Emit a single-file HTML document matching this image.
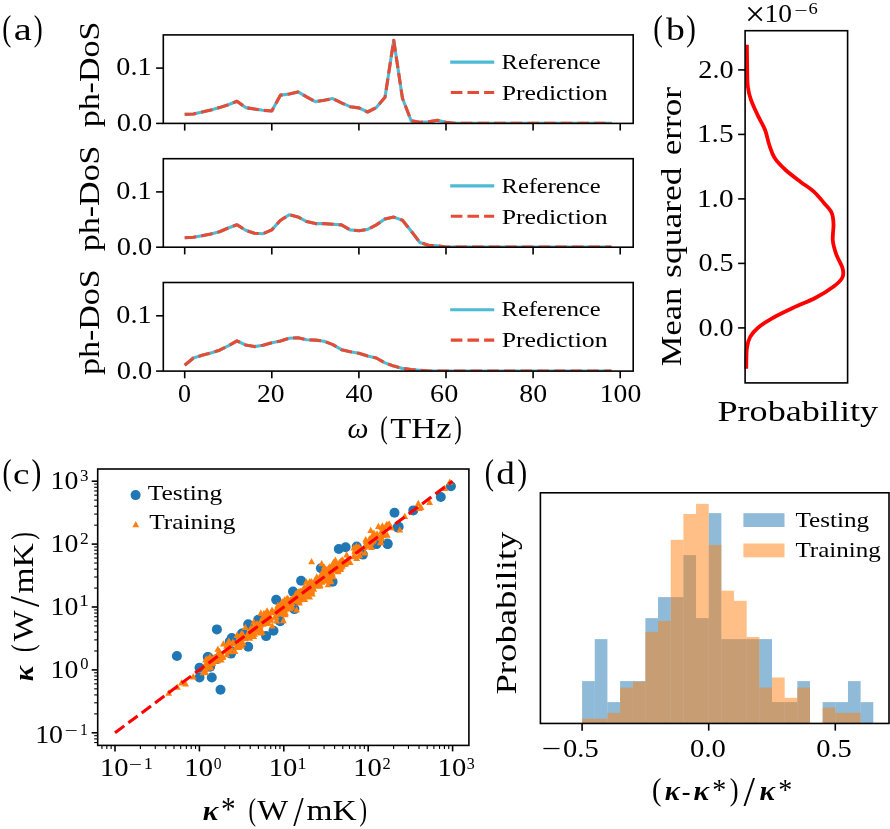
<!DOCTYPE html>
<html><head><meta charset="utf-8"><style>
html,body{margin:0;padding:0;background:#fff;}
svg{display:block;will-change:transform;}
text{font-family:"Liberation Serif", serif;}
</style></head><body>
<svg width="890" height="829" viewBox="0 0 890 829">
<rect width="890" height="829" fill="#fff"/>
<clipPath id="ca0"><rect x="163.3" y="34.9" width="469.9" height="88.5"/></clipPath>
<g clip-path="url(#ca0)">
<polyline points="184.7,114.4 193.41,114 202.12,112.1 210.83,110.1 219.54,107.6 228.25,104.7 236.96,101.3 245.67,107.6 254.38,109 263.09,110.3 271.8,111 280.51,95.1 289.22,94 297.93,91.9 306.64,96.9 315.35,101.6 324.06,100.2 332.77,98.6 341.48,102.9 350.19,106.7 358.9,107.9 367.61,112 376.32,107.6 385.03,97.3 393.74,40.3 402.45,98.2 411.16,120.7 419.87,122.3 428.58,121.7 437.29,120.2 446,122.3 454.71,123.3 463.42,123.3 472.13,123.3 480.84,123.3 489.55,123.3 498.26,123.3 506.97,123.3 515.68,123.3 524.39,123.3 533.1,123.3 541.81,123.3 550.52,123.3 559.23,123.3 567.94,123.3 576.65,123.3 585.36,123.3 594.07,123.3 602.78,123.3 611.49,123.3" fill="none" stroke="#4DBBD5" stroke-width="3.1" stroke-linejoin="round"/>
<polyline points="184.7,114.4 193.41,114 202.12,112.1 210.83,110.1 219.54,107.6 228.25,104.7 236.96,101.3 245.67,107.6 254.38,109 263.09,110.3 271.8,111 280.51,95.1 289.22,94 297.93,91.9 306.64,96.9 315.35,101.6 324.06,100.2 332.77,98.6 341.48,102.9 350.19,106.7 358.9,107.9 367.61,112 376.32,107.6 385.03,97.3 393.74,40.3 402.45,98.2 411.16,120.7 419.87,122.3 428.58,121.7 437.29,120.2 446,122.3 454.71,123.3 463.42,123.3 472.13,123.3 480.84,123.3 489.55,123.3 498.26,123.3 506.97,123.3 515.68,123.3 524.39,123.3 533.1,123.3 541.81,123.3 550.52,123.3 559.23,123.3 567.94,123.3 576.65,123.3 585.36,123.3 594.07,123.3 602.78,123.3 611.49,123.3" fill="none" stroke="#E64B35" stroke-width="3.1" stroke-linejoin="round" stroke-dasharray="11.6 5.05"/>
</g>
<line x1="450.2" y1="62.1" x2="494.2" y2="62.1" stroke="#4DBBD5" stroke-width="3.1"/>
<line x1="450.8" y1="92.5" x2="494.2" y2="92.5" stroke="#E64B35" stroke-width="3.1" stroke-dasharray="11.6 5.05"/>
<text x="501.6" y="68.7" font-size="20.2" textLength="98.95" lengthAdjust="spacingAndGlyphs">Reference</text>
<text x="501.66" y="99.8" font-size="20.2" textLength="105.93" lengthAdjust="spacingAndGlyphs">Prediction</text>
<rect x="163.3" y="34.9" width="469.9" height="88.5" fill="none" stroke="#000" stroke-width="1.6" stroke-linejoin="miter"/>
<line x1="156.1" y1="123.4" x2="163.3" y2="123.4" stroke="#000" stroke-width="1.6"/>
<line x1="156.1" y1="68.1" x2="163.3" y2="68.1" stroke="#000" stroke-width="1.6"/>
<text x="116.72" y="131" font-size="25.5" textLength="35.57" lengthAdjust="spacingAndGlyphs">0.0</text>
<text x="116.33" y="75.1" font-size="25.5" textLength="35.16" lengthAdjust="spacingAndGlyphs">0.1</text>
<line x1="184.7" y1="123.4" x2="184.7" y2="130.6" stroke="#000" stroke-width="1.6"/>
<line x1="271.8" y1="123.4" x2="271.8" y2="130.6" stroke="#000" stroke-width="1.6"/>
<line x1="358.9" y1="123.4" x2="358.9" y2="130.6" stroke="#000" stroke-width="1.6"/>
<line x1="446" y1="123.4" x2="446" y2="130.6" stroke="#000" stroke-width="1.6"/>
<line x1="533.1" y1="123.4" x2="533.1" y2="130.6" stroke="#000" stroke-width="1.6"/>
<line x1="620.2" y1="123.4" x2="620.2" y2="130.6" stroke="#000" stroke-width="1.6"/>
<text x="99.5" y="127.35" font-size="29" textLength="105.65" lengthAdjust="spacingAndGlyphs" transform="rotate(-90 99.5 127.35)">ph-DoS</text>
<clipPath id="ca1"><rect x="163.3" y="158.7" width="469.9" height="88.5"/></clipPath>
<g clip-path="url(#ca1)">
<polyline points="184.7,237.8 193.41,237.3 202.12,235.7 210.83,234 219.54,231.7 228.25,228 236.96,224.7 245.67,230.3 254.38,233.3 263.09,233.7 271.8,229.9 280.51,220.2 289.22,214.8 297.93,216.9 306.64,221.6 315.35,223.6 324.06,223.6 332.77,224.3 341.48,224.9 350.19,229.9 358.9,230.7 367.61,229.4 376.32,224.9 385.03,218.9 393.74,217.1 402.45,220.2 411.16,231 419.87,242.5 428.58,245.2 437.29,245.8 446,247.1 454.71,247.1 463.42,247.1 472.13,247.1 480.84,247.1 489.55,247.1 498.26,247.1 506.97,247.1 515.68,247.1 524.39,247.1 533.1,247.1 541.81,247.1 550.52,247.1 559.23,247.1 567.94,247.1 576.65,247.1 585.36,247.1 594.07,247.1 602.78,247.1 611.49,247.1" fill="none" stroke="#4DBBD5" stroke-width="3.1" stroke-linejoin="round"/>
<polyline points="184.7,237.8 193.41,237.3 202.12,235.7 210.83,234 219.54,231.7 228.25,228 236.96,224.7 245.67,230.3 254.38,233.3 263.09,233.7 271.8,229.9 280.51,220.2 289.22,214.8 297.93,216.9 306.64,221.6 315.35,223.6 324.06,223.6 332.77,224.3 341.48,224.9 350.19,229.9 358.9,230.7 367.61,229.4 376.32,224.9 385.03,218.9 393.74,217.1 402.45,220.2 411.16,231 419.87,242.5 428.58,245.2 437.29,245.8 446,247.1 454.71,247.1 463.42,247.1 472.13,247.1 480.84,247.1 489.55,247.1 498.26,247.1 506.97,247.1 515.68,247.1 524.39,247.1 533.1,247.1 541.81,247.1 550.52,247.1 559.23,247.1 567.94,247.1 576.65,247.1 585.36,247.1 594.07,247.1 602.78,247.1 611.49,247.1" fill="none" stroke="#E64B35" stroke-width="3.1" stroke-linejoin="round" stroke-dasharray="11.6 5.05"/>
</g>
<line x1="450.2" y1="185.9" x2="494.2" y2="185.9" stroke="#4DBBD5" stroke-width="3.1"/>
<line x1="450.8" y1="216.3" x2="494.2" y2="216.3" stroke="#E64B35" stroke-width="3.1" stroke-dasharray="11.6 5.05"/>
<text x="501.6" y="192.5" font-size="20.2" textLength="98.95" lengthAdjust="spacingAndGlyphs">Reference</text>
<text x="501.66" y="223.6" font-size="20.2" textLength="105.93" lengthAdjust="spacingAndGlyphs">Prediction</text>
<rect x="163.3" y="158.7" width="469.9" height="88.5" fill="none" stroke="#000" stroke-width="1.6" stroke-linejoin="miter"/>
<line x1="156.1" y1="247.2" x2="163.3" y2="247.2" stroke="#000" stroke-width="1.6"/>
<line x1="156.1" y1="191.9" x2="163.3" y2="191.9" stroke="#000" stroke-width="1.6"/>
<text x="116.72" y="254.8" font-size="25.5" textLength="35.57" lengthAdjust="spacingAndGlyphs">0.0</text>
<text x="116.33" y="198.9" font-size="25.5" textLength="35.16" lengthAdjust="spacingAndGlyphs">0.1</text>
<line x1="184.7" y1="247.2" x2="184.7" y2="254.4" stroke="#000" stroke-width="1.6"/>
<line x1="271.8" y1="247.2" x2="271.8" y2="254.4" stroke="#000" stroke-width="1.6"/>
<line x1="358.9" y1="247.2" x2="358.9" y2="254.4" stroke="#000" stroke-width="1.6"/>
<line x1="446" y1="247.2" x2="446" y2="254.4" stroke="#000" stroke-width="1.6"/>
<line x1="533.1" y1="247.2" x2="533.1" y2="254.4" stroke="#000" stroke-width="1.6"/>
<line x1="620.2" y1="247.2" x2="620.2" y2="254.4" stroke="#000" stroke-width="1.6"/>
<text x="99.5" y="251.15" font-size="29" textLength="105.65" lengthAdjust="spacingAndGlyphs" transform="rotate(-90 99.5 251.15)">ph-DoS</text>
<clipPath id="ca2"><rect x="163.3" y="282.5" width="469.9" height="88.6"/></clipPath>
<g clip-path="url(#ca2)">
<polyline points="184.7,365.2 193.41,358 202.12,355.3 210.83,353 219.54,350.2 228.25,345.9 236.96,340.9 245.67,345 254.38,346.6 263.09,345.2 271.8,342.8 280.51,340.9 289.22,338.2 297.93,337.8 306.64,339.8 315.35,340.1 324.06,341.2 332.77,344.6 341.48,349.7 350.19,351.7 358.9,353.3 367.61,356 376.32,358 385.03,362.9 393.74,366.1 402.45,368.4 411.16,369.5 419.87,370.2 428.58,371 437.29,371 446,371 454.71,371 463.42,371 472.13,371 480.84,371 489.55,371 498.26,371 506.97,371 515.68,371 524.39,371 533.1,371 541.81,371 550.52,371 559.23,371 567.94,371 576.65,371 585.36,371 594.07,371 602.78,371 611.49,371" fill="none" stroke="#4DBBD5" stroke-width="3.1" stroke-linejoin="round"/>
<polyline points="184.7,365.2 193.41,358 202.12,355.3 210.83,353 219.54,350.2 228.25,345.9 236.96,340.9 245.67,345 254.38,346.6 263.09,345.2 271.8,342.8 280.51,340.9 289.22,338.2 297.93,337.8 306.64,339.8 315.35,340.1 324.06,341.2 332.77,344.6 341.48,349.7 350.19,351.7 358.9,353.3 367.61,356 376.32,358 385.03,362.9 393.74,366.1 402.45,368.4 411.16,369.5 419.87,370.2 428.58,371 437.29,371 446,371 454.71,371 463.42,371 472.13,371 480.84,371 489.55,371 498.26,371 506.97,371 515.68,371 524.39,371 533.1,371 541.81,371 550.52,371 559.23,371 567.94,371 576.65,371 585.36,371 594.07,371 602.78,371 611.49,371" fill="none" stroke="#E64B35" stroke-width="3.1" stroke-linejoin="round" stroke-dasharray="11.6 5.05"/>
</g>
<line x1="450.2" y1="309.7" x2="494.2" y2="309.7" stroke="#4DBBD5" stroke-width="3.1"/>
<line x1="450.8" y1="340.1" x2="494.2" y2="340.1" stroke="#E64B35" stroke-width="3.1" stroke-dasharray="11.6 5.05"/>
<text x="501.6" y="316.3" font-size="20.2" textLength="98.95" lengthAdjust="spacingAndGlyphs">Reference</text>
<text x="501.66" y="347.4" font-size="20.2" textLength="105.93" lengthAdjust="spacingAndGlyphs">Prediction</text>
<rect x="163.3" y="282.5" width="469.9" height="88.6" fill="none" stroke="#000" stroke-width="1.6" stroke-linejoin="miter"/>
<line x1="156.1" y1="371.1" x2="163.3" y2="371.1" stroke="#000" stroke-width="1.6"/>
<line x1="156.1" y1="315.8" x2="163.3" y2="315.8" stroke="#000" stroke-width="1.6"/>
<text x="116.72" y="378.7" font-size="25.5" textLength="35.57" lengthAdjust="spacingAndGlyphs">0.0</text>
<text x="116.33" y="322.8" font-size="25.5" textLength="35.16" lengthAdjust="spacingAndGlyphs">0.1</text>
<line x1="184.7" y1="371.1" x2="184.7" y2="378.3" stroke="#000" stroke-width="1.6"/>
<line x1="271.8" y1="371.1" x2="271.8" y2="378.3" stroke="#000" stroke-width="1.6"/>
<line x1="358.9" y1="371.1" x2="358.9" y2="378.3" stroke="#000" stroke-width="1.6"/>
<line x1="446" y1="371.1" x2="446" y2="378.3" stroke="#000" stroke-width="1.6"/>
<line x1="533.1" y1="371.1" x2="533.1" y2="378.3" stroke="#000" stroke-width="1.6"/>
<line x1="620.2" y1="371.1" x2="620.2" y2="378.3" stroke="#000" stroke-width="1.6"/>
<text x="99.5" y="374.95" font-size="29" textLength="105.65" lengthAdjust="spacingAndGlyphs" transform="rotate(-90 99.5 374.95)">ph-DoS</text>
<text x="178.01" y="401.7" font-size="25.5" textLength="12.98" lengthAdjust="spacingAndGlyphs">0</text>
<text x="257.09" y="401.7" font-size="25.5" textLength="27.56" lengthAdjust="spacingAndGlyphs">20</text>
<text x="345.56" y="401.7" font-size="25.5" textLength="27.48" lengthAdjust="spacingAndGlyphs">40</text>
<text x="430.09" y="401.7" font-size="25.5" textLength="28.18" lengthAdjust="spacingAndGlyphs">60</text>
<text x="519.24" y="401.7" font-size="25.5" textLength="27.82" lengthAdjust="spacingAndGlyphs">80</text>
<text x="599.77" y="401.7" font-size="25.5" textLength="41.48" lengthAdjust="spacingAndGlyphs">100</text>
<text x="347.51" y="437.5" font-size="28.5" textLength="20.99" lengthAdjust="spacingAndGlyphs" font-style="italic">ω</text>
<text x="380.21" y="437.7" font-size="31.2" textLength="7.52" lengthAdjust="spacingAndGlyphs">(</text>
<text x="454.27" y="437.7" font-size="31.2" textLength="7.52" lengthAdjust="spacingAndGlyphs">)</text>
<text x="390.18" y="437.5" font-size="29.5" textLength="61.39" lengthAdjust="spacingAndGlyphs">THz</text>
<text x="2.2" y="39.8" font-size="35.5" textLength="9.08" lengthAdjust="spacingAndGlyphs">(</text>
<text x="13.77" y="39.8" font-size="30.5" textLength="18.09" lengthAdjust="spacingAndGlyphs">a</text>
<text x="33.63" y="39.8" font-size="35.5" textLength="8.95" lengthAdjust="spacingAndGlyphs">)</text>
<path d="M746.9,44.8 C746.95,48.85 747.05,62.17 747.2,69.1 C747.35,76.03 747.2,81.35 747.8,86.4 C748.4,91.45 749.2,94.7 750.8,99.4 C752.4,104.1 755.03,109.53 757.4,114.6 C759.77,119.67 763.02,124.73 765,129.8 C766.98,134.87 767.68,140.3 769.3,145 C770.92,149.7 771.98,153.83 774.7,158 C777.42,162.17 781.27,166.02 785.6,170 C789.93,173.98 796,178.3 800.7,181.9 C805.4,185.5 809.92,188.08 813.8,191.6 C817.68,195.12 821.02,199.45 824,203 C826.98,206.55 830.12,209.33 831.7,212.9 C833.28,216.47 833.32,219.82 833.5,224.4 C833.68,228.98 832.35,235.43 832.8,240.4 C833.25,245.37 834.57,249.52 836.2,254.2 C837.83,258.88 841.57,264.62 842.6,268.5 C843.63,272.38 843.83,274.55 842.4,277.5 C840.97,280.45 838.47,282.83 834,286.2 C829.53,289.57 822.48,294.07 815.6,297.7 C808.72,301.33 799.95,304.57 792.7,308 C785.45,311.43 777.83,315.05 772.1,318.3 C766.37,321.55 761.93,324.43 758.3,327.5 C754.67,330.57 752.2,333.27 750.3,336.7 C748.4,340.13 747.58,342.77 746.9,348.1 C746.22,353.43 746.32,365.27 746.2,368.7" fill="none" stroke="#f00" stroke-width="3.8" stroke-linejoin="round"/>
<rect x="745.1" y="30.7" width="102.5" height="352.2" fill="none" stroke="#000" stroke-width="1.6" stroke-linejoin="miter"/>
<line x1="738.1" y1="327.9" x2="745.1" y2="327.9" stroke="#000" stroke-width="1.6"/>
<text x="698.43" y="335.9" font-size="25.5" textLength="35.14" lengthAdjust="spacingAndGlyphs">0.0</text>
<line x1="738.1" y1="263.4" x2="745.1" y2="263.4" stroke="#000" stroke-width="1.6"/>
<text x="698.43" y="271.4" font-size="25.5" textLength="35.17" lengthAdjust="spacingAndGlyphs">0.5</text>
<line x1="738.1" y1="198.9" x2="745.1" y2="198.9" stroke="#000" stroke-width="1.6"/>
<text x="696.92" y="206.9" font-size="25.5" textLength="36.7" lengthAdjust="spacingAndGlyphs">1.0</text>
<line x1="738.1" y1="134.4" x2="745.1" y2="134.4" stroke="#000" stroke-width="1.6"/>
<text x="696.92" y="142.4" font-size="25.5" textLength="36.73" lengthAdjust="spacingAndGlyphs">1.5</text>
<line x1="738.1" y1="69.9" x2="745.1" y2="69.9" stroke="#000" stroke-width="1.6"/>
<text x="698.26" y="77.9" font-size="25.5" textLength="35.32" lengthAdjust="spacingAndGlyphs">2.0</text>
<text x="681" y="366.19" font-size="29" textLength="78.31" lengthAdjust="spacingAndGlyphs" transform="rotate(-90 681 366.19)">Mean</text>
<text x="681" y="277.96" font-size="29" textLength="110.59" lengthAdjust="spacingAndGlyphs" transform="rotate(-90 681 277.96)">squared</text>
<text x="681" y="155.27" font-size="29" textLength="68.18" lengthAdjust="spacingAndGlyphs" transform="rotate(-90 681 155.27)">error</text>
<text x="717.46" y="421.2" font-size="29" textLength="160.58" lengthAdjust="spacingAndGlyphs">Probability</text>
<text x="653.23" y="39.9" font-size="35.5" textLength="9.59" lengthAdjust="spacingAndGlyphs">(</text>
<text x="666" y="39.9" font-size="32.5" textLength="18.83" lengthAdjust="spacingAndGlyphs">b</text>
<text x="686.27" y="39.9" font-size="35.5" textLength="9.59" lengthAdjust="spacingAndGlyphs">)</text>
<text x="745.06" y="26" font-size="35.6" textLength="20.24" lengthAdjust="spacingAndGlyphs">×</text>
<text x="764.49" y="21.8" font-size="25.5" textLength="27.46" lengthAdjust="spacingAndGlyphs">10</text>
<text x="794.23" y="15.6" font-size="17" textLength="13.21" lengthAdjust="spacingAndGlyphs">−</text>
<text x="808.51" y="14.2" font-size="17" textLength="9.25" lengthAdjust="spacingAndGlyphs">6</text>
<line x1="101.93" y1="745.4" x2="101.93" y2="748.9" stroke="#000" stroke-width="1.1"/>
<line x1="94.2" y1="742.54" x2="97.7" y2="742.54" stroke="#000" stroke-width="1.1"/>
<line x1="106.82" y1="745.4" x2="106.82" y2="748.9" stroke="#000" stroke-width="1.1"/>
<line x1="94.2" y1="738.9" x2="97.7" y2="738.9" stroke="#000" stroke-width="1.1"/>
<line x1="111.14" y1="745.4" x2="111.14" y2="748.9" stroke="#000" stroke-width="1.1"/>
<line x1="94.2" y1="735.68" x2="97.7" y2="735.68" stroke="#000" stroke-width="1.1"/>
<line x1="140.41" y1="745.4" x2="140.41" y2="748.9" stroke="#000" stroke-width="1.1"/>
<line x1="94.2" y1="713.87" x2="97.7" y2="713.87" stroke="#000" stroke-width="1.1"/>
<line x1="155.27" y1="745.4" x2="155.27" y2="748.9" stroke="#000" stroke-width="1.1"/>
<line x1="94.2" y1="702.79" x2="97.7" y2="702.79" stroke="#000" stroke-width="1.1"/>
<line x1="165.81" y1="745.4" x2="165.81" y2="748.9" stroke="#000" stroke-width="1.1"/>
<line x1="94.2" y1="694.93" x2="97.7" y2="694.93" stroke="#000" stroke-width="1.1"/>
<line x1="173.99" y1="745.4" x2="173.99" y2="748.9" stroke="#000" stroke-width="1.1"/>
<line x1="94.2" y1="688.83" x2="97.7" y2="688.83" stroke="#000" stroke-width="1.1"/>
<line x1="180.68" y1="745.4" x2="180.68" y2="748.9" stroke="#000" stroke-width="1.1"/>
<line x1="94.2" y1="683.85" x2="97.7" y2="683.85" stroke="#000" stroke-width="1.1"/>
<line x1="186.33" y1="745.4" x2="186.33" y2="748.9" stroke="#000" stroke-width="1.1"/>
<line x1="94.2" y1="679.64" x2="97.7" y2="679.64" stroke="#000" stroke-width="1.1"/>
<line x1="191.22" y1="745.4" x2="191.22" y2="748.9" stroke="#000" stroke-width="1.1"/>
<line x1="94.2" y1="676" x2="97.7" y2="676" stroke="#000" stroke-width="1.1"/>
<line x1="195.54" y1="745.4" x2="195.54" y2="748.9" stroke="#000" stroke-width="1.1"/>
<line x1="94.2" y1="672.78" x2="97.7" y2="672.78" stroke="#000" stroke-width="1.1"/>
<line x1="224.81" y1="745.4" x2="224.81" y2="748.9" stroke="#000" stroke-width="1.1"/>
<line x1="94.2" y1="650.97" x2="97.7" y2="650.97" stroke="#000" stroke-width="1.1"/>
<line x1="239.67" y1="745.4" x2="239.67" y2="748.9" stroke="#000" stroke-width="1.1"/>
<line x1="94.2" y1="639.89" x2="97.7" y2="639.89" stroke="#000" stroke-width="1.1"/>
<line x1="250.21" y1="745.4" x2="250.21" y2="748.9" stroke="#000" stroke-width="1.1"/>
<line x1="94.2" y1="632.03" x2="97.7" y2="632.03" stroke="#000" stroke-width="1.1"/>
<line x1="258.39" y1="745.4" x2="258.39" y2="748.9" stroke="#000" stroke-width="1.1"/>
<line x1="94.2" y1="625.93" x2="97.7" y2="625.93" stroke="#000" stroke-width="1.1"/>
<line x1="265.08" y1="745.4" x2="265.08" y2="748.9" stroke="#000" stroke-width="1.1"/>
<line x1="94.2" y1="620.95" x2="97.7" y2="620.95" stroke="#000" stroke-width="1.1"/>
<line x1="270.73" y1="745.4" x2="270.73" y2="748.9" stroke="#000" stroke-width="1.1"/>
<line x1="94.2" y1="616.74" x2="97.7" y2="616.74" stroke="#000" stroke-width="1.1"/>
<line x1="275.62" y1="745.4" x2="275.62" y2="748.9" stroke="#000" stroke-width="1.1"/>
<line x1="94.2" y1="613.1" x2="97.7" y2="613.1" stroke="#000" stroke-width="1.1"/>
<line x1="279.94" y1="745.4" x2="279.94" y2="748.9" stroke="#000" stroke-width="1.1"/>
<line x1="94.2" y1="609.88" x2="97.7" y2="609.88" stroke="#000" stroke-width="1.1"/>
<line x1="309.21" y1="745.4" x2="309.21" y2="748.9" stroke="#000" stroke-width="1.1"/>
<line x1="94.2" y1="588.07" x2="97.7" y2="588.07" stroke="#000" stroke-width="1.1"/>
<line x1="324.07" y1="745.4" x2="324.07" y2="748.9" stroke="#000" stroke-width="1.1"/>
<line x1="94.2" y1="576.99" x2="97.7" y2="576.99" stroke="#000" stroke-width="1.1"/>
<line x1="334.61" y1="745.4" x2="334.61" y2="748.9" stroke="#000" stroke-width="1.1"/>
<line x1="94.2" y1="569.13" x2="97.7" y2="569.13" stroke="#000" stroke-width="1.1"/>
<line x1="342.79" y1="745.4" x2="342.79" y2="748.9" stroke="#000" stroke-width="1.1"/>
<line x1="94.2" y1="563.03" x2="97.7" y2="563.03" stroke="#000" stroke-width="1.1"/>
<line x1="349.48" y1="745.4" x2="349.48" y2="748.9" stroke="#000" stroke-width="1.1"/>
<line x1="94.2" y1="558.05" x2="97.7" y2="558.05" stroke="#000" stroke-width="1.1"/>
<line x1="355.13" y1="745.4" x2="355.13" y2="748.9" stroke="#000" stroke-width="1.1"/>
<line x1="94.2" y1="553.84" x2="97.7" y2="553.84" stroke="#000" stroke-width="1.1"/>
<line x1="360.02" y1="745.4" x2="360.02" y2="748.9" stroke="#000" stroke-width="1.1"/>
<line x1="94.2" y1="550.2" x2="97.7" y2="550.2" stroke="#000" stroke-width="1.1"/>
<line x1="364.34" y1="745.4" x2="364.34" y2="748.9" stroke="#000" stroke-width="1.1"/>
<line x1="94.2" y1="546.98" x2="97.7" y2="546.98" stroke="#000" stroke-width="1.1"/>
<line x1="393.61" y1="745.4" x2="393.61" y2="748.9" stroke="#000" stroke-width="1.1"/>
<line x1="94.2" y1="525.17" x2="97.7" y2="525.17" stroke="#000" stroke-width="1.1"/>
<line x1="408.47" y1="745.4" x2="408.47" y2="748.9" stroke="#000" stroke-width="1.1"/>
<line x1="94.2" y1="514.09" x2="97.7" y2="514.09" stroke="#000" stroke-width="1.1"/>
<line x1="419.01" y1="745.4" x2="419.01" y2="748.9" stroke="#000" stroke-width="1.1"/>
<line x1="94.2" y1="506.23" x2="97.7" y2="506.23" stroke="#000" stroke-width="1.1"/>
<line x1="427.19" y1="745.4" x2="427.19" y2="748.9" stroke="#000" stroke-width="1.1"/>
<line x1="94.2" y1="500.13" x2="97.7" y2="500.13" stroke="#000" stroke-width="1.1"/>
<line x1="433.88" y1="745.4" x2="433.88" y2="748.9" stroke="#000" stroke-width="1.1"/>
<line x1="94.2" y1="495.15" x2="97.7" y2="495.15" stroke="#000" stroke-width="1.1"/>
<line x1="439.53" y1="745.4" x2="439.53" y2="748.9" stroke="#000" stroke-width="1.1"/>
<line x1="94.2" y1="490.94" x2="97.7" y2="490.94" stroke="#000" stroke-width="1.1"/>
<line x1="444.42" y1="745.4" x2="444.42" y2="748.9" stroke="#000" stroke-width="1.1"/>
<line x1="94.2" y1="487.3" x2="97.7" y2="487.3" stroke="#000" stroke-width="1.1"/>
<line x1="448.74" y1="745.4" x2="448.74" y2="748.9" stroke="#000" stroke-width="1.1"/>
<line x1="94.2" y1="484.08" x2="97.7" y2="484.08" stroke="#000" stroke-width="1.1"/>
<line x1="115" y1="745.4" x2="115" y2="751.4" stroke="#000" stroke-width="1.6"/>
<line x1="91.7" y1="732.8" x2="97.7" y2="732.8" stroke="#000" stroke-width="1.6"/>
<line x1="199.4" y1="745.4" x2="199.4" y2="751.4" stroke="#000" stroke-width="1.6"/>
<line x1="91.7" y1="669.9" x2="97.7" y2="669.9" stroke="#000" stroke-width="1.6"/>
<line x1="283.8" y1="745.4" x2="283.8" y2="751.4" stroke="#000" stroke-width="1.6"/>
<line x1="91.7" y1="607" x2="97.7" y2="607" stroke="#000" stroke-width="1.6"/>
<line x1="368.2" y1="745.4" x2="368.2" y2="751.4" stroke="#000" stroke-width="1.6"/>
<line x1="91.7" y1="544.1" x2="97.7" y2="544.1" stroke="#000" stroke-width="1.6"/>
<line x1="452.6" y1="745.4" x2="452.6" y2="751.4" stroke="#000" stroke-width="1.6"/>
<line x1="91.7" y1="481.2" x2="97.7" y2="481.2" stroke="#000" stroke-width="1.6"/>
<circle cx="176.9" cy="656" r="5" fill="#1f77b4"/>
<circle cx="216.9" cy="629.4" r="5" fill="#1f77b4"/>
<circle cx="207.7" cy="657" r="5" fill="#1f77b4"/>
<circle cx="199.5" cy="667.8" r="5" fill="#1f77b4"/>
<circle cx="199.5" cy="677.5" r="5" fill="#1f77b4"/>
<circle cx="211.8" cy="677.5" r="5" fill="#1f77b4"/>
<circle cx="210.2" cy="666.8" r="5" fill="#1f77b4"/>
<circle cx="220.5" cy="689.8" r="5" fill="#1f77b4"/>
<circle cx="216.9" cy="659.1" r="5" fill="#1f77b4"/>
<circle cx="230.7" cy="652.4" r="5" fill="#1f77b4"/>
<circle cx="231.8" cy="638.1" r="5" fill="#1f77b4"/>
<circle cx="242" cy="633.5" r="5" fill="#1f77b4"/>
<circle cx="248.2" cy="624.2" r="5" fill="#1f77b4"/>
<circle cx="248.2" cy="646.8" r="5" fill="#1f77b4"/>
<circle cx="229.7" cy="641.5" r="5" fill="#1f77b4"/>
<circle cx="243.1" cy="633.4" r="5" fill="#1f77b4"/>
<circle cx="231" cy="653.6" r="5" fill="#1f77b4"/>
<circle cx="266.1" cy="636.1" r="5" fill="#1f77b4"/>
<circle cx="273.5" cy="630.7" r="5" fill="#1f77b4"/>
<circle cx="280.2" cy="621.2" r="5" fill="#1f77b4"/>
<circle cx="276.2" cy="599.7" r="5" fill="#1f77b4"/>
<circle cx="294.4" cy="609.1" r="5" fill="#1f77b4"/>
<circle cx="293" cy="591.6" r="5" fill="#1f77b4"/>
<circle cx="301.1" cy="580.8" r="5" fill="#1f77b4"/>
<circle cx="338.8" cy="549" r="5" fill="#1f77b4"/>
<circle cx="345.6" cy="547.2" r="5" fill="#1f77b4"/>
<circle cx="387.7" cy="544.1" r="5" fill="#1f77b4"/>
<circle cx="376.5" cy="544.1" r="5" fill="#1f77b4"/>
<circle cx="362.9" cy="554.6" r="5" fill="#1f77b4"/>
<circle cx="320.9" cy="568.2" r="5" fill="#1f77b4"/>
<circle cx="332.6" cy="581.8" r="5" fill="#1f77b4"/>
<circle cx="293.1" cy="607.8" r="5" fill="#1f77b4"/>
<circle cx="397.5" cy="527.4" r="5" fill="#1f77b4"/>
<circle cx="356.7" cy="546.6" r="5" fill="#1f77b4"/>
<circle cx="450.9" cy="486.3" r="5" fill="#1f77b4"/>
<circle cx="440.8" cy="497" r="5" fill="#1f77b4"/>
<circle cx="413.3" cy="510.4" r="5" fill="#1f77b4"/>
<circle cx="394.5" cy="512.7" r="5" fill="#1f77b4"/>
<circle cx="398.7" cy="526.7" r="5" fill="#1f77b4"/>
<circle cx="387.4" cy="543.6" r="5" fill="#1f77b4"/>
<circle cx="375.6" cy="543.6" r="5" fill="#1f77b4"/>
<circle cx="258.2" cy="619.8" r="5" fill="#1f77b4"/>
<circle cx="208.4" cy="657.2" r="5" fill="#1f77b4"/>
<circle cx="279.6" cy="620.5" r="5" fill="#1f77b4"/>
<circle cx="231" cy="650.9" r="5" fill="#1f77b4"/>
<path d="M168.7,689.5L165.3,695.79L172.1,695.79Z" fill="#ff7f0e"/>
<path d="M177.4,683.4L174,689.69L180.8,689.69Z" fill="#ff7f0e"/>
<path d="M185.6,680.3L182.2,686.59L189,686.59Z" fill="#ff7f0e"/>
<path d="M181.5,679.3L178.1,685.59L184.9,685.59Z" fill="#ff7f0e"/>
<path d="M193.3,673.1L189.9,679.39L196.7,679.39Z" fill="#ff7f0e"/>
<path d="M203.1,669L199.7,675.29L206.5,675.29Z" fill="#ff7f0e"/>
<path d="M206.1,661.8L202.7,668.09L209.5,668.09Z" fill="#ff7f0e"/>
<path d="M210.2,653.6L206.8,659.89L213.6,659.89Z" fill="#ff7f0e"/>
<path d="M213.3,655.7L209.9,661.99L216.7,661.99Z" fill="#ff7f0e"/>
<path d="M217.9,645.4L214.5,651.69L221.3,651.69Z" fill="#ff7f0e"/>
<path d="M218.9,650.6L215.5,656.89L222.3,656.89Z" fill="#ff7f0e"/>
<path d="M221.5,653.6L218.1,659.89L224.9,659.89Z" fill="#ff7f0e"/>
<path d="M311.6,558L308.2,564.29L315,564.29Z" fill="#ff7f0e"/>
<path d="M449.8,478.4L446.4,484.69L453.2,484.69Z" fill="#ff7f0e"/>
<path d="M444.7,484.6L441.3,490.89L448.1,490.89Z" fill="#ff7f0e"/>
<path d="M429.6,498.6L426.2,504.89L433,504.89Z" fill="#ff7f0e"/>
<path d="M418.3,499.7L414.9,505.99L421.7,505.99Z" fill="#ff7f0e"/>
<path d="M419.4,504.8L416,511.09L422.8,511.09Z" fill="#ff7f0e"/>
<path d="M421.1,503.7L417.7,509.99L424.5,509.99Z" fill="#ff7f0e"/>
<path d="M404.8,512.7L401.4,518.99L408.2,518.99Z" fill="#ff7f0e"/>
<path d="M399.8,526.2L396.4,532.49L403.2,532.49Z" fill="#ff7f0e"/>
<path d="M378.4,522.8L375,529.09L381.8,529.09Z" fill="#ff7f0e"/>
<path d="M382.4,522.2L379,528.49L385.8,528.49Z" fill="#ff7f0e"/>
<path d="M386.3,521.7L382.9,527.99L389.7,527.99Z" fill="#ff7f0e"/>
<path d="M391.3,523.9L387.9,530.19L394.7,530.19Z" fill="#ff7f0e"/>
<path d="M372.2,532.3L368.8,538.59L375.6,538.59Z" fill="#ff7f0e"/>
<path d="M376.7,534L373.3,540.29L380.1,540.29Z" fill="#ff7f0e"/>
<path d="M381.2,532.9L377.8,539.19L384.6,539.19Z" fill="#ff7f0e"/>
<path d="M307.56,581.51L304.16,587.8L310.96,587.8Z" fill="#ff7f0e"/>
<path d="M278.27,610.12L274.87,616.41L281.67,616.41Z" fill="#ff7f0e"/>
<path d="M284.64,608.33L281.24,614.62L288.04,614.62Z" fill="#ff7f0e"/>
<path d="M259.96,627.06L256.56,633.35L263.36,633.35Z" fill="#ff7f0e"/>
<path d="M353.95,551.76L350.55,558.05L357.35,558.05Z" fill="#ff7f0e"/>
<path d="M286.74,595.15L283.34,601.44L290.14,601.44Z" fill="#ff7f0e"/>
<path d="M285.12,602.2L281.72,608.49L288.52,608.49Z" fill="#ff7f0e"/>
<path d="M301.61,587.66L298.21,593.95L305.01,593.95Z" fill="#ff7f0e"/>
<path d="M209.21,658.15L205.81,664.44L212.61,664.44Z" fill="#ff7f0e"/>
<path d="M285.42,599.47L282.02,605.76L288.82,605.76Z" fill="#ff7f0e"/>
<path d="M260.6,627.38L257.2,633.67L264,633.67Z" fill="#ff7f0e"/>
<path d="M255.27,624.85L251.87,631.14L258.67,631.14Z" fill="#ff7f0e"/>
<path d="M364.32,543.82L360.92,550.11L367.72,550.11Z" fill="#ff7f0e"/>
<path d="M286.25,598.86L282.85,605.15L289.65,605.15Z" fill="#ff7f0e"/>
<path d="M216.66,653.18L213.26,659.47L220.06,659.47Z" fill="#ff7f0e"/>
<path d="M260.79,629.13L257.39,635.42L264.19,635.42Z" fill="#ff7f0e"/>
<path d="M354.86,547.62L351.46,553.91L358.26,553.91Z" fill="#ff7f0e"/>
<path d="M296.54,606.23L293.14,612.52L299.94,612.52Z" fill="#ff7f0e"/>
<path d="M217.18,650.93L213.78,657.22L220.58,657.22Z" fill="#ff7f0e"/>
<path d="M301.47,593.87L298.07,600.16L304.87,600.16Z" fill="#ff7f0e"/>
<path d="M265.37,610.1L261.97,616.39L268.77,616.39Z" fill="#ff7f0e"/>
<path d="M249.37,630.92L245.97,637.21L252.77,637.21Z" fill="#ff7f0e"/>
<path d="M214.74,654.27L211.34,660.56L218.14,660.56Z" fill="#ff7f0e"/>
<path d="M275.25,612.68L271.85,618.97L278.65,618.97Z" fill="#ff7f0e"/>
<path d="M303.94,584.29L300.54,590.58L307.34,590.58Z" fill="#ff7f0e"/>
<path d="M281.75,600.49L278.35,606.78L285.15,606.78Z" fill="#ff7f0e"/>
<path d="M253.72,618.21L250.32,624.5L257.12,624.5Z" fill="#ff7f0e"/>
<path d="M367.92,542.35L364.52,548.64L371.32,548.64Z" fill="#ff7f0e"/>
<path d="M276.83,604.95L273.43,611.24L280.23,611.24Z" fill="#ff7f0e"/>
<path d="M387.31,531.46L383.91,537.75L390.71,537.75Z" fill="#ff7f0e"/>
<path d="M251.58,627.06L248.18,633.35L254.98,633.35Z" fill="#ff7f0e"/>
<path d="M217.25,657.09L213.85,663.38L220.65,663.38Z" fill="#ff7f0e"/>
<path d="M311.82,582.45L308.42,588.74L315.22,588.74Z" fill="#ff7f0e"/>
<path d="M287.77,594.67L284.37,600.96L291.17,600.96Z" fill="#ff7f0e"/>
<path d="M250.36,627.94L246.96,634.23L253.76,634.23Z" fill="#ff7f0e"/>
<path d="M304.86,585.58L301.46,591.87L308.26,591.87Z" fill="#ff7f0e"/>
<path d="M307.56,588.93L304.16,595.22L310.96,595.22Z" fill="#ff7f0e"/>
<path d="M340.92,558.32L337.52,564.61L344.32,564.61Z" fill="#ff7f0e"/>
<path d="M287.88,596.14L284.48,602.43L291.28,602.43Z" fill="#ff7f0e"/>
<path d="M222.9,653.03L219.5,659.32L226.3,659.32Z" fill="#ff7f0e"/>
<path d="M382.37,529.64L378.97,535.93L385.77,535.93Z" fill="#ff7f0e"/>
<path d="M356.57,542.51L353.17,548.8L359.97,548.8Z" fill="#ff7f0e"/>
<path d="M290.53,595.95L287.13,602.24L293.93,602.24Z" fill="#ff7f0e"/>
<path d="M319.64,575.56L316.24,581.85L323.04,581.85Z" fill="#ff7f0e"/>
<path d="M325.81,577.15L322.41,583.44L329.21,583.44Z" fill="#ff7f0e"/>
<path d="M373.96,536.18L370.56,542.47L377.36,542.47Z" fill="#ff7f0e"/>
<path d="M286.38,600.91L282.98,607.2L289.78,607.2Z" fill="#ff7f0e"/>
<path d="M236.35,642.86L232.95,649.15L239.75,649.15Z" fill="#ff7f0e"/>
<path d="M270.86,609.03L267.46,615.32L274.26,615.32Z" fill="#ff7f0e"/>
<path d="M347.92,556.6L344.52,562.89L351.32,562.89Z" fill="#ff7f0e"/>
<path d="M279.65,607.92L276.25,614.21L283.05,614.21Z" fill="#ff7f0e"/>
<path d="M206.94,655.1L203.54,661.39L210.34,661.39Z" fill="#ff7f0e"/>
<path d="M267.01,609.91L263.61,616.2L270.41,616.2Z" fill="#ff7f0e"/>
<path d="M339.26,561.43L335.86,567.72L342.66,567.72Z" fill="#ff7f0e"/>
<path d="M389.18,520.14L385.78,526.43L392.58,526.43Z" fill="#ff7f0e"/>
<path d="M316.75,573.21L313.35,579.5L320.15,579.5Z" fill="#ff7f0e"/>
<path d="M262.46,616.88L259.06,623.17L265.86,623.17Z" fill="#ff7f0e"/>
<path d="M330.84,577.96L327.44,584.25L334.24,584.25Z" fill="#ff7f0e"/>
<path d="M321.86,578.55L318.46,584.84L325.26,584.84Z" fill="#ff7f0e"/>
<path d="M326.7,575.97L323.3,582.26L330.1,582.26Z" fill="#ff7f0e"/>
<path d="M261.83,616.05L258.43,622.34L265.23,622.34Z" fill="#ff7f0e"/>
<path d="M340.8,558.09L337.4,564.38L344.2,564.38Z" fill="#ff7f0e"/>
<path d="M338.12,567.99L334.72,574.28L341.52,574.28Z" fill="#ff7f0e"/>
<path d="M340.1,565.78L336.7,572.07L343.5,572.07Z" fill="#ff7f0e"/>
<path d="M277.86,601.69L274.46,607.98L281.26,607.98Z" fill="#ff7f0e"/>
<path d="M315.27,576.46L311.87,582.75L318.67,582.75Z" fill="#ff7f0e"/>
<path d="M246.37,633.14L242.97,639.43L249.77,639.43Z" fill="#ff7f0e"/>
<path d="M257.06,620.56L253.66,626.85L260.46,626.85Z" fill="#ff7f0e"/>
<path d="M259.52,623.32L256.12,629.61L262.92,629.61Z" fill="#ff7f0e"/>
<path d="M302.81,586.87L299.41,593.16L306.21,593.16Z" fill="#ff7f0e"/>
<path d="M275.94,613.47L272.54,619.76L279.34,619.76Z" fill="#ff7f0e"/>
<path d="M272.06,606.58L268.66,612.87L275.46,612.87Z" fill="#ff7f0e"/>
<path d="M283.63,600.37L280.23,606.66L287.03,606.66Z" fill="#ff7f0e"/>
<path d="M222.71,653.48L219.31,659.77L226.11,659.77Z" fill="#ff7f0e"/>
<path d="M228.91,640.64L225.51,646.93L232.31,646.93Z" fill="#ff7f0e"/>
<path d="M359.05,543.48L355.65,549.77L362.45,549.77Z" fill="#ff7f0e"/>
<path d="M251,628.5L247.6,634.79L254.4,634.79Z" fill="#ff7f0e"/>
<path d="M254.71,622.64L251.31,628.93L258.11,628.93Z" fill="#ff7f0e"/>
<path d="M280.49,609.68L277.09,615.97L283.89,615.97Z" fill="#ff7f0e"/>
<path d="M359.43,550.89L356.03,557.18L362.83,557.18Z" fill="#ff7f0e"/>
<path d="M283.11,603.6L279.71,609.89L286.51,609.89Z" fill="#ff7f0e"/>
<path d="M365.69,535.89L362.29,542.18L369.09,542.18Z" fill="#ff7f0e"/>
<path d="M310.81,586.3L307.41,592.59L314.21,592.59Z" fill="#ff7f0e"/>
<path d="M228.85,637.29L225.45,643.58L232.25,643.58Z" fill="#ff7f0e"/>
<path d="M208.21,658.38L204.81,664.67L211.61,664.67Z" fill="#ff7f0e"/>
<path d="M212.34,659.7L208.94,665.99L215.74,665.99Z" fill="#ff7f0e"/>
<path d="M249.28,627.28L245.88,633.57L252.68,633.57Z" fill="#ff7f0e"/>
<path d="M328,581.05L324.6,587.34L331.4,587.34Z" fill="#ff7f0e"/>
<path d="M309.06,580.03L305.66,586.32L312.46,586.32Z" fill="#ff7f0e"/>
<path d="M205.62,668.73L202.22,675.02L209.02,675.02Z" fill="#ff7f0e"/>
<path d="M254.19,624.46L250.79,630.75L257.59,630.75Z" fill="#ff7f0e"/>
<path d="M333.1,572.89L329.7,579.18L336.5,579.18Z" fill="#ff7f0e"/>
<path d="M290.2,604.95L286.8,611.24L293.6,611.24Z" fill="#ff7f0e"/>
<path d="M335.42,556.4L332.02,562.69L338.82,562.69Z" fill="#ff7f0e"/>
<path d="M339.35,558.89L335.95,565.18L342.75,565.18Z" fill="#ff7f0e"/>
<path d="M324.85,569.39L321.45,575.68L328.25,575.68Z" fill="#ff7f0e"/>
<path d="M277.98,602.23L274.58,608.52L281.38,608.52Z" fill="#ff7f0e"/>
<path d="M252.95,632.82L249.55,639.11L256.35,639.11Z" fill="#ff7f0e"/>
<path d="M337.67,562.01L334.27,568.3L341.07,568.3Z" fill="#ff7f0e"/>
<path d="M260.97,626.06L257.57,632.35L264.37,632.35Z" fill="#ff7f0e"/>
<path d="M370.73,526.79L367.33,533.08L374.13,533.08Z" fill="#ff7f0e"/>
<path d="M284.53,602.07L281.13,608.36L287.93,608.36Z" fill="#ff7f0e"/>
<path d="M266.32,614.11L262.92,620.4L269.72,620.4Z" fill="#ff7f0e"/>
<path d="M285.49,605.55L282.09,611.84L288.89,611.84Z" fill="#ff7f0e"/>
<path d="M301.14,595.73L297.74,602.02L304.54,602.02Z" fill="#ff7f0e"/>
<path d="M353.86,544.12L350.46,550.41L357.26,550.41Z" fill="#ff7f0e"/>
<path d="M265.82,613.9L262.42,620.19L269.22,620.19Z" fill="#ff7f0e"/>
<path d="M309.23,582.72L305.83,589.01L312.63,589.01Z" fill="#ff7f0e"/>
<path d="M285.24,610.84L281.84,617.13L288.64,617.13Z" fill="#ff7f0e"/>
<path d="M335.38,566.88L331.98,573.17L338.78,573.17Z" fill="#ff7f0e"/>
<path d="M317.96,576.54L314.56,582.83L321.36,582.83Z" fill="#ff7f0e"/>
<path d="M282.16,597.94L278.76,604.23L285.56,604.23Z" fill="#ff7f0e"/>
<path d="M228.87,645.75L225.47,652.04L232.27,652.04Z" fill="#ff7f0e"/>
<path d="M283.33,599.96L279.93,606.25L286.73,606.25Z" fill="#ff7f0e"/>
<path d="M316.1,581.29L312.7,587.58L319.5,587.58Z" fill="#ff7f0e"/>
<path d="M338.82,563.65L335.42,569.94L342.22,569.94Z" fill="#ff7f0e"/>
<path d="M309.78,579.04L306.38,585.33L313.18,585.33Z" fill="#ff7f0e"/>
<path d="M289.82,599.75L286.42,606.04L293.22,606.04Z" fill="#ff7f0e"/>
<path d="M260.78,621.21L257.38,627.5L264.18,627.5Z" fill="#ff7f0e"/>
<path d="M258.43,624.47L255.03,630.76L261.83,630.76Z" fill="#ff7f0e"/>
<path d="M336.83,561.88L333.43,568.17L340.23,568.17Z" fill="#ff7f0e"/>
<path d="M381.29,527.85L377.89,534.14L384.69,534.14Z" fill="#ff7f0e"/>
<path d="M227.2,647.4L223.8,653.69L230.6,653.69Z" fill="#ff7f0e"/>
<path d="M355.08,546.41L351.68,552.7L358.48,552.7Z" fill="#ff7f0e"/>
<path d="M239.17,639.79L235.77,646.08L242.57,646.08Z" fill="#ff7f0e"/>
<path d="M313.11,582.81L309.71,589.1L316.51,589.1Z" fill="#ff7f0e"/>
<path d="M319.51,576.57L316.11,582.86L322.91,582.86Z" fill="#ff7f0e"/>
<path d="M331.19,570.09L327.79,576.38L334.59,576.38Z" fill="#ff7f0e"/>
<path d="M326.33,566.27L322.93,572.56L329.73,572.56Z" fill="#ff7f0e"/>
<path d="M298.4,588.35L295,594.64L301.8,594.64Z" fill="#ff7f0e"/>
<path d="M240.33,640.63L236.93,646.92L243.73,646.92Z" fill="#ff7f0e"/>
<path d="M280.38,607.04L276.98,613.33L283.78,613.33Z" fill="#ff7f0e"/>
<path d="M309.33,582.06L305.93,588.35L312.73,588.35Z" fill="#ff7f0e"/>
<path d="M268.39,619.22L264.99,625.51L271.79,625.51Z" fill="#ff7f0e"/>
<path d="M243.1,639.54L239.7,645.83L246.5,645.83Z" fill="#ff7f0e"/>
<path d="M341.17,557.32L337.77,563.61L344.57,563.61Z" fill="#ff7f0e"/>
<path d="M262.11,628.59L258.71,634.88L265.51,634.88Z" fill="#ff7f0e"/>
<path d="M321.69,559.91L318.29,566.2L325.09,566.2Z" fill="#ff7f0e"/>
<path d="M313.93,578.72L310.53,585.01L317.33,585.01Z" fill="#ff7f0e"/>
<path d="M295.5,592.89L292.1,599.18L298.9,599.18Z" fill="#ff7f0e"/>
<path d="M241.28,631.61L237.88,637.9L244.68,637.9Z" fill="#ff7f0e"/>
<path d="M278.41,607.95L275.01,614.24L281.81,614.24Z" fill="#ff7f0e"/>
<path d="M330.32,569.69L326.92,575.98L333.72,575.98Z" fill="#ff7f0e"/>
<path d="M313.67,581.77L310.27,588.06L317.07,588.06Z" fill="#ff7f0e"/>
<path d="M298.61,597.76L295.21,604.05L302.01,604.05Z" fill="#ff7f0e"/>
<path d="M301.53,588.82L298.13,595.11L304.93,595.11Z" fill="#ff7f0e"/>
<path d="M210.57,663.19L207.17,669.48L213.97,669.48Z" fill="#ff7f0e"/>
<path d="M282.86,602.6L279.46,608.89L286.26,608.89Z" fill="#ff7f0e"/>
<path d="M359.63,544.85L356.23,551.14L363.03,551.14Z" fill="#ff7f0e"/>
<path d="M310.68,584.44L307.28,590.73L314.08,590.73Z" fill="#ff7f0e"/>
<path d="M380.29,538.97L376.89,545.26L383.69,545.26Z" fill="#ff7f0e"/>
<path d="M290.33,596.97L286.93,603.26L293.73,603.26Z" fill="#ff7f0e"/>
<path d="M252.97,624.03L249.57,630.32L256.37,630.32Z" fill="#ff7f0e"/>
<path d="M333.79,564.79L330.39,571.08L337.19,571.08Z" fill="#ff7f0e"/>
<path d="M340.9,563.36L337.5,569.65L344.3,569.65Z" fill="#ff7f0e"/>
<path d="M239.85,633.67L236.45,639.96L243.25,639.96Z" fill="#ff7f0e"/>
<path d="M369.47,535.21L366.07,541.5L372.87,541.5Z" fill="#ff7f0e"/>
<path d="M276.68,617.29L273.28,623.58L280.08,623.58Z" fill="#ff7f0e"/>
<path d="M256.88,620.3L253.48,626.59L260.28,626.59Z" fill="#ff7f0e"/>
<path d="M360.16,547.56L356.76,553.85L363.56,553.85Z" fill="#ff7f0e"/>
<path d="M372.83,537.52L369.43,543.81L376.23,543.81Z" fill="#ff7f0e"/>
<path d="M235,647.75L231.6,654.04L238.4,654.04Z" fill="#ff7f0e"/>
<path d="M338.65,565.28L335.25,571.57L342.05,571.57Z" fill="#ff7f0e"/>
<path d="M239.53,642.44L236.13,648.73L242.93,648.73Z" fill="#ff7f0e"/>
<path d="M267.07,612.13L263.67,618.42L270.47,618.42Z" fill="#ff7f0e"/>
<path d="M205.59,665.76L202.19,672.05L208.99,672.05Z" fill="#ff7f0e"/>
<path d="M336.3,563.28L332.9,569.57L339.7,569.57Z" fill="#ff7f0e"/>
<path d="M381.21,534.39L377.81,540.68L384.61,540.68Z" fill="#ff7f0e"/>
<path d="M340.79,565.41L337.39,571.7L344.19,571.7Z" fill="#ff7f0e"/>
<path d="M289.19,603.87L285.79,610.16L292.59,610.16Z" fill="#ff7f0e"/>
<path d="M253.51,625.24L250.11,631.53L256.91,631.53Z" fill="#ff7f0e"/>
<path d="M295.51,595.11L292.11,601.4L298.91,601.4Z" fill="#ff7f0e"/>
<path d="M212.99,659.76L209.59,666.05L216.39,666.05Z" fill="#ff7f0e"/>
<path d="M273.38,608.64L269.98,614.93L276.78,614.93Z" fill="#ff7f0e"/>
<path d="M312.08,587.51L308.68,593.8L315.48,593.8Z" fill="#ff7f0e"/>
<path d="M283.4,616.97L280,623.26L286.8,623.26Z" fill="#ff7f0e"/>
<path d="M248.56,629.22L245.16,635.51L251.96,635.51Z" fill="#ff7f0e"/>
<path d="M283.32,603.88L279.92,610.17L286.72,610.17Z" fill="#ff7f0e"/>
<path d="M285.71,599.51L282.31,605.8L289.11,605.8Z" fill="#ff7f0e"/>
<path d="M295.63,590.59L292.23,596.88L299.03,596.88Z" fill="#ff7f0e"/>
<path d="M376.19,530.93L372.79,537.22L379.59,537.22Z" fill="#ff7f0e"/>
<path d="M301.43,593.89L298.03,600.18L304.83,600.18Z" fill="#ff7f0e"/>
<path d="M325.26,575.12L321.86,581.41L328.66,581.41Z" fill="#ff7f0e"/>
<path d="M284.69,596.1L281.29,602.39L288.09,602.39Z" fill="#ff7f0e"/>
<path d="M206.22,661.38L202.82,667.67L209.62,667.67Z" fill="#ff7f0e"/>
<path d="M343.74,557.63L340.34,563.92L347.14,563.92Z" fill="#ff7f0e"/>
<path d="M370.28,539.17L366.88,545.46L373.68,545.46Z" fill="#ff7f0e"/>
<path d="M285.09,601.02L281.69,607.31L288.49,607.31Z" fill="#ff7f0e"/>
<path d="M291.72,602.23L288.32,608.52L295.12,608.52Z" fill="#ff7f0e"/>
<path d="M313.77,581.05L310.37,587.34L317.17,587.34Z" fill="#ff7f0e"/>
<path d="M339.58,562.87L336.18,569.16L342.98,569.16Z" fill="#ff7f0e"/>
<path d="M257.2,620.99L253.8,627.28L260.6,627.28Z" fill="#ff7f0e"/>
<path d="M319.53,582.44L316.13,588.73L322.93,588.73Z" fill="#ff7f0e"/>
<path d="M241.44,630.06L238.04,636.35L244.84,636.35Z" fill="#ff7f0e"/>
<path d="M285.85,600.34L282.45,606.63L289.25,606.63Z" fill="#ff7f0e"/>
<path d="M269.89,613.02L266.49,619.31L273.29,619.31Z" fill="#ff7f0e"/>
<path d="M242.66,630.56L239.26,636.85L246.06,636.85Z" fill="#ff7f0e"/>
<path d="M384,529.09L380.6,535.38L387.4,535.38Z" fill="#ff7f0e"/>
<path d="M297.73,591.06L294.33,597.35L301.13,597.35Z" fill="#ff7f0e"/>
<path d="M307.08,592.27L303.68,598.56L310.48,598.56Z" fill="#ff7f0e"/>
<path d="M254.03,628.04L250.63,634.33L257.43,634.33Z" fill="#ff7f0e"/>
<path d="M254.49,630.38L251.09,636.67L257.89,636.67Z" fill="#ff7f0e"/>
<path d="M249.85,634.37L246.45,640.66L253.25,640.66Z" fill="#ff7f0e"/>
<path d="M359.31,551.9L355.91,558.19L362.71,558.19Z" fill="#ff7f0e"/>
<path d="M214.91,655.55L211.51,661.84L218.31,661.84Z" fill="#ff7f0e"/>
<path d="M333.44,562.21L330.04,568.5L336.84,568.5Z" fill="#ff7f0e"/>
<path d="M219.67,648.09L216.27,654.38L223.07,654.38Z" fill="#ff7f0e"/>
<path d="M248.91,631.55L245.51,637.84L252.31,637.84Z" fill="#ff7f0e"/>
<path d="M292.48,596.14L289.08,602.43L295.88,602.43Z" fill="#ff7f0e"/>
<path d="M328,569.74L324.6,576.03L331.4,576.03Z" fill="#ff7f0e"/>
<path d="M353.87,552.85L350.47,559.14L357.27,559.14Z" fill="#ff7f0e"/>
<path d="M299.35,595.04L295.95,601.33L302.75,601.33Z" fill="#ff7f0e"/>
<path d="M251.54,626.09L248.14,632.38L254.94,632.38Z" fill="#ff7f0e"/>
<path d="M264.82,613.84L261.42,620.13L268.22,620.13Z" fill="#ff7f0e"/>
<path d="M294.32,596L290.92,602.29L297.72,602.29Z" fill="#ff7f0e"/>
<path d="M272.18,622.17L268.78,628.46L275.58,628.46Z" fill="#ff7f0e"/>
<path d="M366.12,540.63L362.72,546.92L369.52,546.92Z" fill="#ff7f0e"/>
<path d="M303.45,595.62L300.05,601.91L306.85,601.91Z" fill="#ff7f0e"/>
<path d="M347.62,555.4L344.22,561.69L351.02,561.69Z" fill="#ff7f0e"/>
<path d="M243.22,634.8L239.82,641.09L246.62,641.09Z" fill="#ff7f0e"/>
<path d="M338.24,564.58L334.84,570.87L341.64,570.87Z" fill="#ff7f0e"/>
<path d="M292.42,594.78L289.02,601.07L295.82,601.07Z" fill="#ff7f0e"/>
<path d="M338.42,564.36L335.02,570.65L341.82,570.65Z" fill="#ff7f0e"/>
<path d="M309.64,593.28L306.24,599.57L313.04,599.57Z" fill="#ff7f0e"/>
<path d="M262.99,615.07L259.59,621.36L266.39,621.36Z" fill="#ff7f0e"/>
<path d="M276.76,610.15L273.36,616.44L280.16,616.44Z" fill="#ff7f0e"/>
<path d="M377.17,530.39L373.77,536.68L380.57,536.68Z" fill="#ff7f0e"/>
<path d="M296.82,589.73L293.42,596.02L300.22,596.02Z" fill="#ff7f0e"/>
<path d="M271.08,616.54L267.68,622.83L274.48,622.83Z" fill="#ff7f0e"/>
<path d="M308.31,582.68L304.91,588.97L311.71,588.97Z" fill="#ff7f0e"/>
<path d="M231.19,644.92L227.79,651.21L234.59,651.21Z" fill="#ff7f0e"/>
<path d="M323.07,567.68L319.67,573.97L326.47,573.97Z" fill="#ff7f0e"/>
<path d="M294.98,594.35L291.58,600.64L298.38,600.64Z" fill="#ff7f0e"/>
<path d="M252.32,628.62L248.92,634.91L255.72,634.91Z" fill="#ff7f0e"/>
<path d="M259.22,628.39L255.82,634.68L262.62,634.68Z" fill="#ff7f0e"/>
<path d="M305.15,587.25L301.75,593.54L308.55,593.54Z" fill="#ff7f0e"/>
<path d="M340.48,563.15L337.08,569.44L343.88,569.44Z" fill="#ff7f0e"/>
<path d="M339.78,558.72L336.38,565.01L343.18,565.01Z" fill="#ff7f0e"/>
<path d="M342.1,562.11L338.7,568.4L345.5,568.4Z" fill="#ff7f0e"/>
<path d="M345.73,560.11L342.33,566.4L349.13,566.4Z" fill="#ff7f0e"/>
<path d="M299.74,596.11L296.34,602.4L303.14,602.4Z" fill="#ff7f0e"/>
<path d="M383.41,531.77L380.01,538.06L386.81,538.06Z" fill="#ff7f0e"/>
<path d="M259.92,622.65L256.52,628.94L263.32,628.94Z" fill="#ff7f0e"/>
<path d="M241.75,641.91L238.35,648.2L245.15,648.2Z" fill="#ff7f0e"/>
<path d="M331.78,563.01L328.38,569.3L335.18,569.3Z" fill="#ff7f0e"/>
<path d="M245.37,623.76L241.97,630.05L248.77,630.05Z" fill="#ff7f0e"/>
<path d="M239.03,643.82L235.63,650.11L242.43,650.11Z" fill="#ff7f0e"/>
<path d="M288.13,604.43L284.73,610.72L291.53,610.72Z" fill="#ff7f0e"/>
<path d="M341.25,558.61L337.85,564.9L344.65,564.9Z" fill="#ff7f0e"/>
<path d="M281.23,603.64L277.83,609.93L284.63,609.93Z" fill="#ff7f0e"/>
<path d="M282.52,607.59L279.12,613.88L285.92,613.88Z" fill="#ff7f0e"/>
<path d="M260.89,609.43L257.49,615.72L264.29,615.72Z" fill="#ff7f0e"/>
<path d="M323.94,573.24L320.54,579.53L327.34,579.53Z" fill="#ff7f0e"/>
<path d="M288.8,602.6L285.4,608.89L292.2,608.89Z" fill="#ff7f0e"/>
<path d="M304.58,588.76L301.18,595.05L307.98,595.05Z" fill="#ff7f0e"/>
<path d="M237.89,637.16L234.49,643.45L241.29,643.45Z" fill="#ff7f0e"/>
<path d="M321.89,577.81L318.49,584.1L325.29,584.1Z" fill="#ff7f0e"/>
<path d="M255.81,626.22L252.41,632.51L259.21,632.51Z" fill="#ff7f0e"/>
<path d="M344.27,560.63L340.87,566.92L347.67,566.92Z" fill="#ff7f0e"/>
<path d="M337.83,566.73L334.43,573.02L341.23,573.02Z" fill="#ff7f0e"/>
<path d="M300,588.07L296.6,594.36L303.4,594.36Z" fill="#ff7f0e"/>
<path d="M279.82,601.7L276.42,607.99L283.22,607.99Z" fill="#ff7f0e"/>
<path d="M212.85,657.83L209.45,664.12L216.25,664.12Z" fill="#ff7f0e"/>
<path d="M307.56,590.01L304.16,596.3L310.96,596.3Z" fill="#ff7f0e"/>
<path d="M268.2,615.58L264.8,621.87L271.6,621.87Z" fill="#ff7f0e"/>
<path d="M282.13,607.55L278.73,613.84L285.53,613.84Z" fill="#ff7f0e"/>
<path d="M291.38,603.39L287.98,609.68L294.78,609.68Z" fill="#ff7f0e"/>
<path d="M342.16,562.13L338.76,568.42L345.56,568.42Z" fill="#ff7f0e"/>
<path d="M263.37,620.42L259.97,626.71L266.77,626.71Z" fill="#ff7f0e"/>
<path d="M365.02,549.3L361.62,555.59L368.42,555.59Z" fill="#ff7f0e"/>
<path d="M291.36,598.53L287.96,604.82L294.76,604.82Z" fill="#ff7f0e"/>
<path d="M346.66,551.33L343.26,557.62L350.06,557.62Z" fill="#ff7f0e"/>
<path d="M356.14,545.04L352.74,551.33L359.54,551.33Z" fill="#ff7f0e"/>
<path d="M253.74,632.74L250.34,639.03L257.14,639.03Z" fill="#ff7f0e"/>
<path d="M329.68,566.52L326.28,572.81L333.08,572.81Z" fill="#ff7f0e"/>
<path d="M381.04,538.57L377.64,544.86L384.44,544.86Z" fill="#ff7f0e"/>
<path d="M350.18,558.63L346.78,564.92L353.58,564.92Z" fill="#ff7f0e"/>
<path d="M373.84,529.56L370.44,535.85L377.24,535.85Z" fill="#ff7f0e"/>
<path d="M304.51,583.71L301.11,590L307.91,590Z" fill="#ff7f0e"/>
<path d="M333.2,559.83L329.8,566.12L336.6,566.12Z" fill="#ff7f0e"/>
<path d="M261.32,617.01L257.92,623.3L264.72,623.3Z" fill="#ff7f0e"/>
<path d="M336.41,562.66L333.01,568.95L339.81,568.95Z" fill="#ff7f0e"/>
<path d="M331.2,564.8L327.8,571.09L334.6,571.09Z" fill="#ff7f0e"/>
<path d="M383.16,526.84L379.76,533.13L386.56,533.13Z" fill="#ff7f0e"/>
<path d="M293.29,597.1L289.89,603.39L296.69,603.39Z" fill="#ff7f0e"/>
<path d="M335.45,564.66L332.05,570.95L338.85,570.95Z" fill="#ff7f0e"/>
<path d="M205.56,656.25L202.16,662.54L208.96,662.54Z" fill="#ff7f0e"/>
<path d="M303.84,591.52L300.44,597.81L307.24,597.81Z" fill="#ff7f0e"/>
<path d="M287.82,596.47L284.42,602.76L291.22,602.76Z" fill="#ff7f0e"/>
<path d="M286.87,597.5L283.47,603.79L290.27,603.79Z" fill="#ff7f0e"/>
<path d="M327.41,571.22L324.01,577.51L330.81,577.51Z" fill="#ff7f0e"/>
<path d="M320.12,581.61L316.72,587.9L323.52,587.9Z" fill="#ff7f0e"/>
<path d="M371.44,538.93L368.04,545.22L374.84,545.22Z" fill="#ff7f0e"/>
<path d="M265.07,615.53L261.67,621.82L268.47,621.82Z" fill="#ff7f0e"/>
<path d="M329.45,568.25L326.05,574.54L332.85,574.54Z" fill="#ff7f0e"/>
<path d="M311.8,578.69L308.4,584.98L315.2,584.98Z" fill="#ff7f0e"/>
<path d="M283.6,604.8L280.2,611.09L287,611.09Z" fill="#ff7f0e"/>
<path d="M232.79,638.42L229.39,644.71L236.19,644.71Z" fill="#ff7f0e"/>
<path d="M374.56,532.8L371.16,539.09L377.96,539.09Z" fill="#ff7f0e"/>
<path d="M298.61,597.09L295.21,603.38L302.01,603.38Z" fill="#ff7f0e"/>
<path d="M248.14,633.15L244.74,639.44L251.54,639.44Z" fill="#ff7f0e"/>
<path d="M206.48,658.63L203.08,664.92L209.88,664.92Z" fill="#ff7f0e"/>
<path d="M333.57,558.78L330.17,565.07L336.97,565.07Z" fill="#ff7f0e"/>
<path d="M289.38,600.11L285.98,606.4L292.78,606.4Z" fill="#ff7f0e"/>
<path d="M267.17,616.53L263.77,622.82L270.57,622.82Z" fill="#ff7f0e"/>
<path d="M323.57,571.31L320.17,577.6L326.97,577.6Z" fill="#ff7f0e"/>
<path d="M312.34,590.31L308.94,596.6L315.74,596.6Z" fill="#ff7f0e"/>
<path d="M329.39,563.33L325.99,569.62L332.79,569.62Z" fill="#ff7f0e"/>
<path d="M264.91,618.9L261.51,625.19L268.31,625.19Z" fill="#ff7f0e"/>
<path d="M331.7,562.49L328.3,568.78L335.1,568.78Z" fill="#ff7f0e"/>
<path d="M240.55,636.54L237.15,642.83L243.95,642.83Z" fill="#ff7f0e"/>
<path d="M324.26,563.43L320.86,569.72L327.66,569.72Z" fill="#ff7f0e"/>
<path d="M301.21,588.89L297.81,595.18L304.61,595.18Z" fill="#ff7f0e"/>
<path d="M310.66,584.86L307.26,591.15L314.06,591.15Z" fill="#ff7f0e"/>
<path d="M266.52,619.64L263.12,625.93L269.92,625.93Z" fill="#ff7f0e"/>
<path d="M384.39,524.87L380.99,531.16L387.79,531.16Z" fill="#ff7f0e"/>
<path d="M371.49,543.69L368.09,549.98L374.89,549.98Z" fill="#ff7f0e"/>
<path d="M284.21,604.17L280.81,610.46L287.61,610.46Z" fill="#ff7f0e"/>
<path d="M373.82,534.06L370.42,540.35L377.22,540.35Z" fill="#ff7f0e"/>
<path d="M356.74,554.68L353.34,560.97L360.14,560.97Z" fill="#ff7f0e"/>
<path d="M370.18,538.9L366.78,545.19L373.58,545.19Z" fill="#ff7f0e"/>
<path d="M342.67,557.54L339.27,563.83L346.07,563.83Z" fill="#ff7f0e"/>
<path d="M209.57,653.82L206.17,660.11L212.97,660.11Z" fill="#ff7f0e"/>
<path d="M386.89,520.78L383.49,527.07L390.29,527.07Z" fill="#ff7f0e"/>
<path d="M328.25,572.87L324.85,579.16L331.65,579.16Z" fill="#ff7f0e"/>
<path d="M261.53,616.21L258.13,622.5L264.93,622.5Z" fill="#ff7f0e"/>
<path d="M319.99,576.33L316.59,582.62L323.39,582.62Z" fill="#ff7f0e"/>
<path d="M230.17,647.89L226.77,654.18L233.57,654.18Z" fill="#ff7f0e"/>
<path d="M300.13,587.69L296.73,593.98L303.53,593.98Z" fill="#ff7f0e"/>
<path d="M309.09,587.86L305.69,594.15L312.49,594.15Z" fill="#ff7f0e"/>
<path d="M328.21,565.02L324.81,571.31L331.61,571.31Z" fill="#ff7f0e"/>
<path d="M381.75,534.61L378.35,540.9L385.15,540.9Z" fill="#ff7f0e"/>
<path d="M319.45,579.95L316.05,586.24L322.85,586.24Z" fill="#ff7f0e"/>
<path d="M299.45,599.28L296.05,605.57L302.85,605.57Z" fill="#ff7f0e"/>
<path d="M388.3,521.16L384.9,527.45L391.7,527.45Z" fill="#ff7f0e"/>
<path d="M284.2,610.66L280.8,616.95L287.6,616.95Z" fill="#ff7f0e"/>
<path d="M332.32,570.46L328.92,576.75L335.72,576.75Z" fill="#ff7f0e"/>
<path d="M226.53,642.34L223.13,648.63L229.93,648.63Z" fill="#ff7f0e"/>
<path d="M213.77,657.23L210.37,663.52L217.17,663.52Z" fill="#ff7f0e"/>
<path d="M221.26,656.22L217.86,662.51L224.66,662.51Z" fill="#ff7f0e"/>
<path d="M313.81,585.46L310.41,591.75L317.21,591.75Z" fill="#ff7f0e"/>
<path d="M226.73,651.05L223.33,657.34L230.13,657.34Z" fill="#ff7f0e"/>
<path d="M213.27,654.46L209.87,660.75L216.67,660.75Z" fill="#ff7f0e"/>
<path d="M270.61,613.97L267.21,620.26L274.01,620.26Z" fill="#ff7f0e"/>
<path d="M277.06,608.48L273.66,614.77L280.46,614.77Z" fill="#ff7f0e"/>
<path d="M309.76,577.88L306.36,584.17L313.16,584.17Z" fill="#ff7f0e"/>
<path d="M285.49,609.36L282.09,615.65L288.89,615.65Z" fill="#ff7f0e"/>
<path d="M342.25,556.26L338.85,562.55L345.65,562.55Z" fill="#ff7f0e"/>
<path d="M309.73,585.42L306.33,591.71L313.13,591.71Z" fill="#ff7f0e"/>
<path d="M327.83,566.95L324.43,573.24L331.23,573.24Z" fill="#ff7f0e"/>
<path d="M322.97,574.4L319.57,580.69L326.37,580.69Z" fill="#ff7f0e"/>
<path d="M263.92,609.78L260.52,616.07L267.32,616.07Z" fill="#ff7f0e"/>
<path d="M325.33,575.95L321.93,582.24L328.73,582.24Z" fill="#ff7f0e"/>
<path d="M316.49,578.18L313.09,584.47L319.89,584.47Z" fill="#ff7f0e"/>
<path d="M299,594.11L295.6,600.4L302.4,600.4Z" fill="#ff7f0e"/>
<path d="M335.38,560.23L331.98,566.52L338.78,566.52Z" fill="#ff7f0e"/>
<path d="M258.46,623.19L255.06,629.48L261.86,629.48Z" fill="#ff7f0e"/>
<path d="M315.1,582.03L311.7,588.32L318.5,588.32Z" fill="#ff7f0e"/>
<path d="M272.06,608.4L268.66,614.69L275.46,614.69Z" fill="#ff7f0e"/>
<path d="M366.97,538.66L363.57,544.95L370.37,544.95Z" fill="#ff7f0e"/>
<path d="M295.77,591.42L292.37,597.71L299.17,597.71Z" fill="#ff7f0e"/>
<path d="M223.32,640.21L219.92,646.5L226.72,646.5Z" fill="#ff7f0e"/>
<path d="M267.11,607.31L263.71,613.6L270.51,613.6Z" fill="#ff7f0e"/>
<path d="M292.08,599.74L288.68,606.03L295.48,606.03Z" fill="#ff7f0e"/>
<path d="M332.04,569.47L328.64,575.76L335.44,575.76Z" fill="#ff7f0e"/>
<path d="M245.07,634.9L241.67,641.19L248.47,641.19Z" fill="#ff7f0e"/>
<path d="M237.23,631.82L233.83,638.11L240.63,638.11Z" fill="#ff7f0e"/>
<path d="M327.02,570.32L323.62,576.61L330.42,576.61Z" fill="#ff7f0e"/>
<path d="M263.34,614.45L259.94,620.74L266.74,620.74Z" fill="#ff7f0e"/>
<path d="M259.5,625.61L256.1,631.9L262.9,631.9Z" fill="#ff7f0e"/>
<path d="M282.25,607.83L278.85,614.12L285.65,614.12Z" fill="#ff7f0e"/>
<path d="M381.92,523.74L378.52,530.03L385.32,530.03Z" fill="#ff7f0e"/>
<path d="M301.71,591.57L298.31,597.86L305.11,597.86Z" fill="#ff7f0e"/>
<path d="M294.38,596.43L290.98,602.72L297.78,602.72Z" fill="#ff7f0e"/>
<path d="M322.77,571.48L319.37,577.77L326.17,577.77Z" fill="#ff7f0e"/>
<path d="M311.58,582.8L308.18,589.09L314.98,589.09Z" fill="#ff7f0e"/>
<path d="M325.13,569.14L321.73,575.43L328.53,575.43Z" fill="#ff7f0e"/>
<path d="M366.08,537.49L362.68,543.78L369.48,543.78Z" fill="#ff7f0e"/>
<path d="M304.73,595.59L301.33,601.88L308.13,601.88Z" fill="#ff7f0e"/>
<path d="M237.02,631.75L233.62,638.04L240.42,638.04Z" fill="#ff7f0e"/>
<path d="M275.94,612.74L272.54,619.03L279.34,619.03Z" fill="#ff7f0e"/>
<path d="M305.26,592.8L301.86,599.09L308.66,599.09Z" fill="#ff7f0e"/>
<path d="M326.83,577.05L323.43,583.34L330.23,583.34Z" fill="#ff7f0e"/>
<path d="M317.36,579.4L313.96,585.69L320.76,585.69Z" fill="#ff7f0e"/>
<path d="M321.11,570.6L317.71,576.89L324.51,576.89Z" fill="#ff7f0e"/>
<path d="M285.4,601.29L282,607.58L288.8,607.58Z" fill="#ff7f0e"/>
<path d="M234.81,639.66L231.41,645.95L238.21,645.95Z" fill="#ff7f0e"/>
<path d="M311.33,578L307.93,584.29L314.73,584.29Z" fill="#ff7f0e"/>
<path d="M210.18,664.19L206.78,670.48L213.58,670.48Z" fill="#ff7f0e"/>
<path d="M264.37,616.14L260.97,622.43L267.77,622.43Z" fill="#ff7f0e"/>
<path d="M206.92,662.88L203.52,669.17L210.32,669.17Z" fill="#ff7f0e"/>
<path d="M284.32,606.42L280.92,612.71L287.72,612.71Z" fill="#ff7f0e"/>
<path d="M306.38,578.15L302.98,584.44L309.78,584.44Z" fill="#ff7f0e"/>
<path d="M330.49,576.32L327.09,582.61L333.89,582.61Z" fill="#ff7f0e"/>
<path d="M230.77,645.21L227.37,651.5L234.17,651.5Z" fill="#ff7f0e"/>
<path d="M211.48,659.91L208.08,666.2L214.88,666.2Z" fill="#ff7f0e"/>
<path d="M341.87,560.87L338.47,567.16L345.27,567.16Z" fill="#ff7f0e"/>
<path d="M355.98,543.96L352.58,550.25L359.38,550.25Z" fill="#ff7f0e"/>
<path d="M250.94,624.47L247.54,630.76L254.34,630.76Z" fill="#ff7f0e"/>
<path d="M342.27,559.66L338.87,565.95L345.67,565.95Z" fill="#ff7f0e"/>
<line x1="115" y1="732.8" x2="452.6" y2="481.2" stroke="#f00" stroke-width="3.1" stroke-dasharray="11.6 5.05"/>
<rect x="97.7" y="469" width="371.2" height="276.4" fill="none" stroke="#000" stroke-width="1.6" stroke-linejoin="miter"/>
<circle cx="135.6" cy="495.1" r="5" fill="#1f77b4"/>
<path d="M135.8,520.9L132.4,527.19L139.2,527.19Z" fill="#ff7f0e"/>
<text x="147.75" y="500.3" font-size="20.2" textLength="74.52" lengthAdjust="spacingAndGlyphs">Testing</text>
<text x="149.15" y="528.5" font-size="20.2" textLength="86.33" lengthAdjust="spacingAndGlyphs">Training</text>
<text x="99.99" y="776.3" font-size="25.5" textLength="28.6" lengthAdjust="spacingAndGlyphs">10</text>
<text x="128.74" y="769.6" font-size="17" textLength="13.09" lengthAdjust="spacingAndGlyphs">−</text>
<text x="143.8" y="768.6" font-size="17" textLength="9.09" lengthAdjust="spacingAndGlyphs">1</text>
<text x="35.15" y="742.9" font-size="25.5" textLength="27.92" lengthAdjust="spacingAndGlyphs">10</text>
<text x="64.53" y="736.1" font-size="17" textLength="13.21" lengthAdjust="spacingAndGlyphs">−</text>
<text x="79.93" y="735.1" font-size="17" textLength="7.81" lengthAdjust="spacingAndGlyphs">1</text>
<text x="184.39" y="776.3" font-size="25.5" textLength="28.6" lengthAdjust="spacingAndGlyphs">10</text>
<text x="213.81" y="768.6" font-size="17" textLength="7.79" lengthAdjust="spacingAndGlyphs">0</text>
<text x="50.56" y="677.7" font-size="25.5" textLength="27.8" lengthAdjust="spacingAndGlyphs">10</text>
<text x="80.17" y="669.3" font-size="17" textLength="8.26" lengthAdjust="spacingAndGlyphs">0</text>
<text x="268.79" y="776.3" font-size="25.5" textLength="28.6" lengthAdjust="spacingAndGlyphs">10</text>
<text x="297.15" y="768.6" font-size="17" textLength="9.37" lengthAdjust="spacingAndGlyphs">1</text>
<text x="50.56" y="614.8" font-size="25.5" textLength="27.8" lengthAdjust="spacingAndGlyphs">10</text>
<text x="79.05" y="606.4" font-size="17" textLength="9.94" lengthAdjust="spacingAndGlyphs">1</text>
<text x="353.19" y="776.3" font-size="25.5" textLength="28.6" lengthAdjust="spacingAndGlyphs">10</text>
<text x="382.48" y="768.6" font-size="17" textLength="8.23" lengthAdjust="spacingAndGlyphs">2</text>
<text x="50.56" y="551.9" font-size="25.5" textLength="27.8" lengthAdjust="spacingAndGlyphs">10</text>
<text x="80.03" y="543.5" font-size="17" textLength="8.73" lengthAdjust="spacingAndGlyphs">2</text>
<text x="437.59" y="776.3" font-size="25.5" textLength="28.6" lengthAdjust="spacingAndGlyphs">10</text>
<text x="466.84" y="768.6" font-size="17" textLength="7.99" lengthAdjust="spacingAndGlyphs">3</text>
<text x="50.56" y="489" font-size="25.5" textLength="27.8" lengthAdjust="spacingAndGlyphs">10</text>
<text x="79.99" y="480.6" font-size="17" textLength="8.47" lengthAdjust="spacingAndGlyphs">3</text>
<text x="202.65" y="819.8" font-size="28" textLength="15.43" lengthAdjust="spacingAndGlyphs" font-style="italic" font-weight="bold">κ</text>
<text x="221.07" y="819.9" font-size="33" textLength="14.63" lengthAdjust="spacingAndGlyphs">*</text>
<text x="248.61" y="819.9" font-size="31.2" textLength="7.52" lengthAdjust="spacingAndGlyphs">(</text>
<text x="359.57" y="819.9" font-size="31.2" textLength="7.52" lengthAdjust="spacingAndGlyphs">)</text>
<text x="257.27" y="819.7" font-size="29.5" textLength="30.9" lengthAdjust="spacingAndGlyphs">W</text>
<text x="293.2" y="825.8" font-size="41.9" textLength="10.4" lengthAdjust="spacingAndGlyphs">/</text>
<text x="306.5" y="819.7" font-size="29.5" textLength="50.14" lengthAdjust="spacingAndGlyphs">mK</text>
<text x="32.9" y="681.25" font-size="28" textLength="15.33" lengthAdjust="spacingAndGlyphs" transform="rotate(-90 32.9 681.25)" font-style="italic" font-weight="bold">κ</text>
<text x="33.1" y="651.99" font-size="31.2" textLength="7.52" lengthAdjust="spacingAndGlyphs" transform="rotate(-90 33.1 651.99)">(</text>
<text x="33.1" y="539.83" font-size="31.2" textLength="7.52" lengthAdjust="spacingAndGlyphs" transform="rotate(-90 33.1 539.83)">)</text>
<text x="32.9" y="641.23" font-size="29.5" textLength="30.8" lengthAdjust="spacingAndGlyphs" transform="rotate(-90 32.9 641.23)">W</text>
<text x="39" y="607.1" font-size="41.9" textLength="10.9" lengthAdjust="spacingAndGlyphs" transform="rotate(-90 39 607.1)">/</text>
<text x="32.9" y="593.6" font-size="29.5" textLength="50.35" lengthAdjust="spacingAndGlyphs" transform="rotate(-90 32.9 593.6)">mK</text>
<text x="2.6" y="484" font-size="35.5" textLength="9.08" lengthAdjust="spacingAndGlyphs">(</text>
<text x="12.99" y="484" font-size="30" textLength="16.45" lengthAdjust="spacingAndGlyphs">c</text>
<text x="31.45" y="484" font-size="35.5" textLength="9.85" lengthAdjust="spacingAndGlyphs">)</text>
<rect x="582.1" y="681.1" width="12.66" height="42.35" fill="#1f77b4" fill-opacity="0.5"/>
<rect x="594.76" y="639.1" width="12.66" height="84.35" fill="#1f77b4" fill-opacity="0.5"/>
<rect x="607.42" y="702.1" width="12.66" height="21.35" fill="#1f77b4" fill-opacity="0.5"/>
<rect x="620.08" y="681.1" width="12.66" height="42.35" fill="#1f77b4" fill-opacity="0.5"/>
<rect x="632.74" y="681.1" width="12.66" height="42.35" fill="#1f77b4" fill-opacity="0.5"/>
<rect x="645.4" y="618.1" width="12.66" height="105.35" fill="#1f77b4" fill-opacity="0.5"/>
<rect x="658.06" y="597.1" width="12.66" height="126.35" fill="#1f77b4" fill-opacity="0.5"/>
<rect x="670.72" y="597.1" width="12.66" height="126.35" fill="#1f77b4" fill-opacity="0.5"/>
<rect x="683.38" y="555.1" width="12.66" height="168.35" fill="#1f77b4" fill-opacity="0.5"/>
<rect x="696.04" y="618.1" width="12.66" height="105.35" fill="#1f77b4" fill-opacity="0.5"/>
<rect x="708.7" y="513.1" width="12.66" height="210.35" fill="#1f77b4" fill-opacity="0.5"/>
<rect x="721.36" y="639.1" width="12.66" height="84.35" fill="#1f77b4" fill-opacity="0.5"/>
<rect x="734.02" y="639.1" width="12.66" height="84.35" fill="#1f77b4" fill-opacity="0.5"/>
<rect x="746.68" y="639.1" width="12.66" height="84.35" fill="#1f77b4" fill-opacity="0.5"/>
<rect x="759.34" y="639.1" width="12.66" height="84.35" fill="#1f77b4" fill-opacity="0.5"/>
<rect x="772" y="702.1" width="12.66" height="21.35" fill="#1f77b4" fill-opacity="0.5"/>
<rect x="784.66" y="702.1" width="12.66" height="21.35" fill="#1f77b4" fill-opacity="0.5"/>
<rect x="797.32" y="681.1" width="12.66" height="42.35" fill="#1f77b4" fill-opacity="0.5"/>
<rect x="822.64" y="702.1" width="12.66" height="21.35" fill="#1f77b4" fill-opacity="0.5"/>
<rect x="835.3" y="702.1" width="12.66" height="21.35" fill="#1f77b4" fill-opacity="0.5"/>
<rect x="847.96" y="681.1" width="12.66" height="42.35" fill="#1f77b4" fill-opacity="0.5"/>
<rect x="860.62" y="702.1" width="12.66" height="21.35" fill="#1f77b4" fill-opacity="0.5"/>
<rect x="582.1" y="718.7" width="12.66" height="4.75" fill="#ff7f0e" fill-opacity="0.5"/>
<rect x="594.76" y="718.7" width="12.66" height="4.75" fill="#ff7f0e" fill-opacity="0.5"/>
<rect x="607.42" y="712.9" width="12.66" height="10.55" fill="#ff7f0e" fill-opacity="0.5"/>
<rect x="620.08" y="687.7" width="12.66" height="35.75" fill="#ff7f0e" fill-opacity="0.5"/>
<rect x="632.74" y="681.7" width="12.66" height="41.75" fill="#ff7f0e" fill-opacity="0.5"/>
<rect x="645.4" y="631.9" width="12.66" height="91.55" fill="#ff7f0e" fill-opacity="0.5"/>
<rect x="658.06" y="620.9" width="12.66" height="102.55" fill="#ff7f0e" fill-opacity="0.5"/>
<rect x="670.72" y="539.8" width="12.66" height="183.65" fill="#ff7f0e" fill-opacity="0.5"/>
<rect x="683.38" y="514" width="12.66" height="209.45" fill="#ff7f0e" fill-opacity="0.5"/>
<rect x="696.04" y="503.9" width="12.66" height="219.55" fill="#ff7f0e" fill-opacity="0.5"/>
<rect x="708.7" y="545" width="12.66" height="178.45" fill="#ff7f0e" fill-opacity="0.5"/>
<rect x="721.36" y="590.7" width="12.66" height="132.75" fill="#ff7f0e" fill-opacity="0.5"/>
<rect x="734.02" y="600.8" width="12.66" height="122.65" fill="#ff7f0e" fill-opacity="0.5"/>
<rect x="746.68" y="637" width="12.66" height="86.45" fill="#ff7f0e" fill-opacity="0.5"/>
<rect x="759.34" y="687.6" width="12.66" height="35.85" fill="#ff7f0e" fill-opacity="0.5"/>
<rect x="772" y="677.5" width="12.66" height="45.95" fill="#ff7f0e" fill-opacity="0.5"/>
<rect x="784.66" y="697.8" width="12.66" height="25.65" fill="#ff7f0e" fill-opacity="0.5"/>
<rect x="797.32" y="687.6" width="12.66" height="35.85" fill="#ff7f0e" fill-opacity="0.5"/>
<rect x="822.64" y="707.6" width="12.66" height="15.85" fill="#ff7f0e" fill-opacity="0.5"/>
<rect x="835.3" y="712.8" width="12.66" height="10.65" fill="#ff7f0e" fill-opacity="0.5"/>
<rect x="847.96" y="712.8" width="12.66" height="10.65" fill="#ff7f0e" fill-opacity="0.5"/>
<rect x="540.4" y="492.8" width="348.6" height="230.65" fill="none" stroke="#000" stroke-width="1.6" stroke-linejoin="miter"/>
<text x="541.68" y="757.3" font-size="25.5" textLength="19.51" lengthAdjust="spacingAndGlyphs">−</text>
<line x1="582.1" y1="723.45" x2="582.1" y2="730.65" stroke="#000" stroke-width="1.6"/>
<text x="563.02" y="757.3" font-size="25.5" textLength="35.6" lengthAdjust="spacingAndGlyphs">0.5</text>
<line x1="708.7" y1="723.45" x2="708.7" y2="730.65" stroke="#000" stroke-width="1.6"/>
<text x="690.11" y="757.3" font-size="25.5" textLength="35.78" lengthAdjust="spacingAndGlyphs">0.0</text>
<line x1="835.3" y1="723.45" x2="835.3" y2="730.65" stroke="#000" stroke-width="1.6"/>
<text x="816.22" y="757.3" font-size="25.5" textLength="35.6" lengthAdjust="spacingAndGlyphs">0.5</text>
<rect x="743.4" y="513.2" width="41.1" height="13.8" fill="#1f77b4" fill-opacity="0.5"/>
<rect x="743.4" y="543.5" width="41.1" height="13.8" fill="#ff7f0e" fill-opacity="0.5"/>
<text x="795.46" y="526.6" font-size="20.2" textLength="73.61" lengthAdjust="spacingAndGlyphs">Testing</text>
<text x="795.45" y="556.8" font-size="20.2" textLength="85.32" lengthAdjust="spacingAndGlyphs">Training</text>
<text x="516.3" y="694.56" font-size="29" textLength="163" lengthAdjust="spacingAndGlyphs" transform="rotate(-90 516.3 694.56)">Probability</text>
<text x="652.05" y="799.9" font-size="31.2" textLength="9.47" lengthAdjust="spacingAndGlyphs">(</text>
<text x="664.86" y="799.5" font-size="28" textLength="15.02" lengthAdjust="spacingAndGlyphs" font-style="italic" font-weight="bold">κ</text>
<text x="681.63" y="799.5" font-size="28" textLength="8.72" lengthAdjust="spacingAndGlyphs">-</text>
<text x="693.54" y="799.5" font-size="28" textLength="15.53" lengthAdjust="spacingAndGlyphs" font-style="italic" font-weight="bold">κ</text>
<text x="712.23" y="798.7" font-size="29.4" textLength="14.01" lengthAdjust="spacingAndGlyphs">*</text>
<text x="729.65" y="799.9" font-size="31.2" textLength="8.82" lengthAdjust="spacingAndGlyphs">)</text>
<text x="743.5" y="805.8" font-size="41.9" textLength="11.5" lengthAdjust="spacingAndGlyphs">/</text>
<text x="759.55" y="799.5" font-size="28" textLength="15.43" lengthAdjust="spacingAndGlyphs" font-style="italic" font-weight="bold">κ</text>
<text x="778.13" y="798.7" font-size="29.4" textLength="14.01" lengthAdjust="spacingAndGlyphs">*</text>
<text x="484.79" y="483.9" font-size="35.5" textLength="9.21" lengthAdjust="spacingAndGlyphs">(</text>
<text x="496.16" y="483.9" font-size="32.5" textLength="18.6" lengthAdjust="spacingAndGlyphs">d</text>
<text x="517.47" y="483.9" font-size="35.5" textLength="9.59" lengthAdjust="spacingAndGlyphs">)</text>
</svg>
</body></html>
